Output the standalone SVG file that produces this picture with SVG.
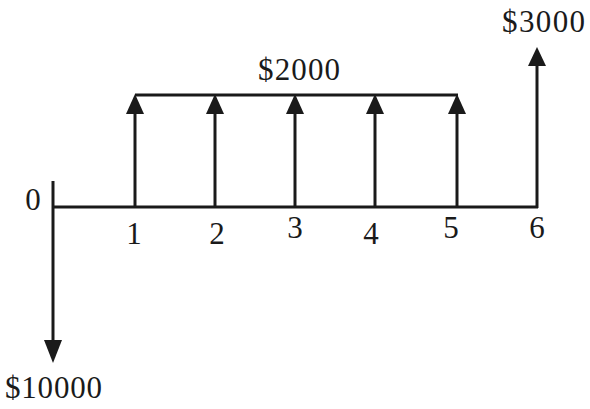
<svg xmlns="http://www.w3.org/2000/svg" width="590" height="409" viewBox="0 0 590 409">
<defs>
<style>
.ln{stroke:#1a1a1a;stroke-width:3;fill:none}
.ah{fill:#1a1a1a}
.t{font-family:'Liberation Serif','Times New Roman',Tinos,Times,serif;font-size:31px;fill:#1a1a1a}
</style>
</defs>
<rect width="590" height="409" fill="#fff"/>
<g id="connectors">
<line class="ln" x1="53" y1="207" x2="538" y2="207"/>
<line class="ln" x1="53" y1="181" x2="53" y2="345"/>
<polygon class="ah" points="44,340 62,340 53,363"/>
<line class="ln" x1="135" y1="95" x2="458" y2="95"/>
<line class="ln" x1="135" y1="207" x2="135" y2="110"/>
<polygon class="ah" points="126,114 144,114 135,94"/>
<line class="ln" x1="215" y1="207" x2="215" y2="110"/>
<polygon class="ah" points="206,114 224,114 215,94"/>
<line class="ln" x1="295" y1="207" x2="295" y2="110"/>
<polygon class="ah" points="286,114 304,114 295,94"/>
<line class="ln" x1="375" y1="207" x2="375" y2="110"/>
<polygon class="ah" points="366,114 384,114 375,94"/>
<line class="ln" x1="457" y1="207" x2="457" y2="110"/>
<polygon class="ah" points="448,114 466,114 457,94"/>
<line class="ln" x1="537" y1="208" x2="537" y2="62"/>
<polygon class="ah" points="528,66 546,66 537,47"/>
</g>
<g id="labels">
<text class="t" x="33" y="210" text-anchor="middle">0</text>
<text class="t" x="134" y="244" text-anchor="middle">1</text>
<text class="t" x="217" y="244" text-anchor="middle">2</text>
<text class="t" x="295" y="238" text-anchor="middle">3</text>
<text class="t" x="371" y="244" text-anchor="middle">4</text>
<text class="t" x="451" y="238" text-anchor="middle">5</text>
<text class="t" x="537" y="238" text-anchor="middle">6</text>
<text class="t" x="258" y="80" textLength="82">$2000</text>
<text class="t" x="502" y="32" textLength="83">$3000</text>
<text class="t" x="5" y="398" textLength="97">$10000</text>
</g>
</svg>
